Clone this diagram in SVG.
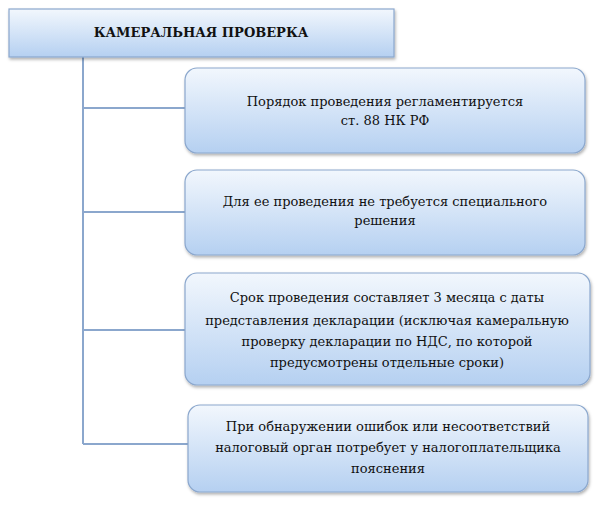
<svg xmlns="http://www.w3.org/2000/svg" width="600" height="507" viewBox="0 0 600 507">
<defs>
<linearGradient id="g" x1="0" y1="0" x2="0" y2="1"><stop offset="0" stop-color="#f2f7fd"/><stop offset="1" stop-color="#b5d0f1"/></linearGradient>
<filter id="s" x="-5%" y="-10%" width="115%" height="130%"><feDropShadow dx="1" dy="2" stdDeviation="1.5" flood-color="#000" flood-opacity="0.3"/></filter>
</defs>
<style>
.b{fill:url(#g);stroke:#8ba7cd;stroke-width:1.2;filter:url(#s)}
.t{font-family:'DejaVu Serif','Liberation Serif',serif;font-size:13px;fill:#111;text-anchor:middle}
.c{stroke:#8ba7cd;stroke-width:2;fill:none}
</style>
<rect width="600" height="507" fill="#fff"/>
<g id="connectors">
<path class="c" d="M83 57V444M83 108H185M83 212H185M83 330H185M83 444H188"/>
</g>
<g id="header"><rect class="b" x="9" y="9" width="385" height="48"/><text class="t" x="201" y="37" font-weight="bold">КАМЕРАЛЬНАЯ  ПРОВЕРКА</text></g>
<g id="n1"><rect class="b" x="185" y="68" width="400" height="85" rx="12"/><text class="t" x="385" y="106">Порядок проведения регламентируется</text><text class="t" x="385" y="125">ст. 88 НК РФ</text></g>
<g id="n2"><rect class="b" x="185" y="170" width="400" height="85" rx="12"/><text class="t" x="385" y="206">Для ее проведения не требуется специального</text><text class="t" x="385" y="225">решения</text></g>
<g id="n3"><rect class="b" x="185" y="273" width="405" height="112" rx="12"/><text class="t" x="387" y="302">Срок проведения составляет 3 месяца с даты</text><text class="t" x="387" y="325">представления декларации (исключая камеральную</text><text class="t" x="387" y="346">проверку декларации по НДС, по которой</text><text class="t" x="387" y="367">предусмотрены отдельные сроки)</text></g>
<g id="n4"><rect class="b" x="188" y="405" width="400" height="87" rx="12"/><text class="t" x="388" y="431">При обнаружении ошибок или несоответствий</text><text class="t" x="388" y="452">налоговый орган потребует у налогоплательщика</text><text class="t" x="388" y="473">пояснения</text></g>
</svg>
